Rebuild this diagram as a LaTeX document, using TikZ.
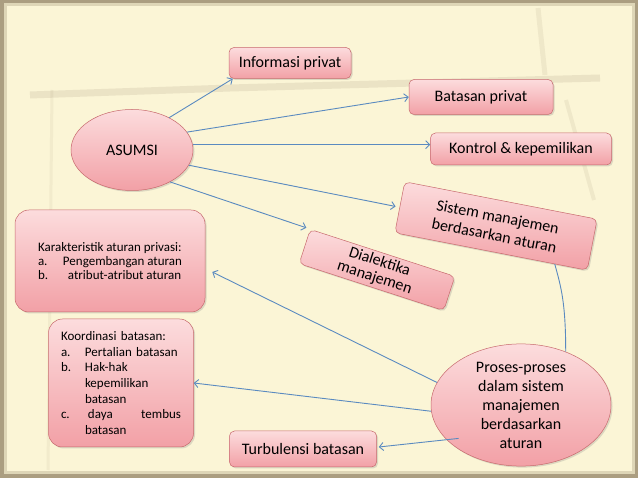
\documentclass[tikz,border=0pt]{standalone}
\usepackage{fontspec}
\setmainfont{Carlito}
\usetikzlibrary{arrows.meta,%
                shapes,positioning,shadows}
\definecolor{paper}{HTML}{FBF5D6}
\definecolor{grunge}{HTML}{8A7A5E}
\definecolor{pinktop}{HTML}{FCDCDD}
\definecolor{pinkbot}{HTML}{F2A0A6}
\definecolor{pinkline}{HTML}{C7696D}
\definecolor{linkblue}{HTML}{5A8AC0}

\begin{document}
\begin{tikzpicture}[x=1pt,y=-1pt,
  box/.style={draw=pinkline, line width=0.5pt, rounded corners=5pt,
    top color=pinktop, bottom color=pinkbot, inner sep=2pt,
    drop shadow={opacity=0.25, shadow xshift=1.5pt, shadow yshift=-1.5pt},
    font=\fontsize{16}{19}\selectfont},
  blob/.style={box, ellipse, rounded corners=0pt, inner sep=0pt, align=center},
  link/.style={draw=linkblue, line width=0.9pt, -{Straight Barb[length=4pt,width=8pt]}}]
% paper and frame
\useasboundingbox (0,0) rectangle (638,478);
\fill[paper] (0,0) rectangle (638,478);
\draw[grunge, opacity=0.14, line width=7pt] (30,95) -- (230,88) -- (600,78);
\draw[grunge, opacity=0.1, line width=5pt] (538,8) -- (545,75);
\draw[grunge, opacity=0.1, line width=4pt] (566,100) -- (594,200);
\draw[grunge, opacity=0.08, line width=3pt] (52,90) -- (48,470);
\draw[grunge, opacity=0.7, line width=7pt] (0,0) rectangle (638,478);
\draw[grunge, opacity=0.25, line width=3pt] (5,5) rectangle (633,473);

% nodes
\node[blob, minimum width=122, minimum height=81] (asumsi) at (132,150) {ASUMSI};
\node[box, minimum width=122, minimum height=31] (info) at (290,63) {Informasi privat};
\node[box, minimum width=144, minimum height=35] (batas) at (481,97) {Batasan privat};
\node[box, minimum width=181, minimum height=32] (kontrol) at (521,149) {Kontrol \& kepemilikan};
\node[box, minimum width=196, minimum height=52, rotate=-11, align=center,
  font=\fontsize{16}{19}\selectfont] (sistem) at (496,226) {Sistem manajemen\\berdasarkan aturan};
\node[box, minimum width=152, minimum height=36, rotate=-18, align=center,
  inner sep=0pt, font=\fontsize{16}{16.5}\selectfont] (dialek) at (377,270) {Dialektika\\manajemen};
\node[box, minimum width=190, minimum height=102, rounded corners=14pt, align=left,
  font=\fontsize{13}{13.6}\selectfont] (karak) at (110,261)
  {Karakteristik aturan privasi:\\
   \makebox[25pt][l]{a.}Pengembangan aturan\\
   \makebox[30pt][l]{b.}atribut-atribut aturan};
\node[box, minimum width=145, minimum height=128, rounded corners=14pt, align=left,
  text width=120pt, font=\fontsize{13}{15.7}\selectfont] (koord) at (121,383)
  {Koordinasi batasan:\\
   \makebox[24pt][l]{a.}Pertalian batasan\\
   \makebox[24pt][l]{b.}Hak-hak\\
   \hspace*{24pt}kepemilikan\\
   \hspace*{24pt}batasan\\
   \makebox[27pt][l]{c.}daya\hfill tembus\\
   \hspace*{24pt}batasan};
\node[blob, minimum width=180, minimum height=116,
  font=\fontsize{16}{19}\selectfont] (proses) at (521,405)
  {Proses-proses\\dalam sistem\\manajemen\\berdasarkan\\aturan};
\node[box, minimum width=147, minimum height=36] (turb) at (303,449) {Turbulensi batasan};

% connectors
\draw[link] (asumsi.41) -- ([xshift=4pt]info.south west);
\draw[link] (asumsi.18) -- (batas.west);
\draw[link] (asumsi.5) -- (asumsi.5 -| kontrol.west);
\draw[link, shorten >=4pt] (asumsi.-15) -- (sistem.west);
\draw[link, shorten >=4pt] (asumsi.-40) -- (dialek.north west);
\draw[link] (proses.165) -- ([shift={(7,11)}]karak.east);
\draw[link] (proses.184) -- (koord.east);
\draw[link, shorten <=-12pt] (proses.205) -- ([shift={(2,-2)}]turb.east);
\draw[linkblue, line width=0.9pt] (proses.50) .. controls +(0,-50) and +(6,22) .. (sistem.-22);
\end{tikzpicture}
\end{document}
